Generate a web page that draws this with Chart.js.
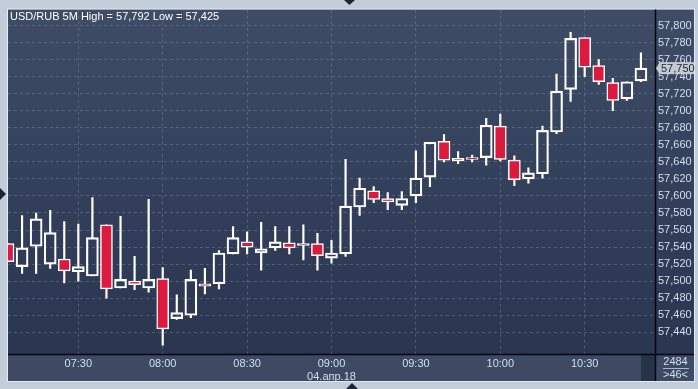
<!DOCTYPE html>
<html>
<head>
<meta charset="utf-8">
<script src="https://cdn.jsdelivr.net/npm/chart.js@4.4.1/dist/chart.umd.min.js"></script>
<style>
    html, body { margin: 0; padding: 0; background: #c3cdda; }
    canvas { display: block; }
</style>
</head>
<body>
<canvas id="chart" width="698" height="389"></canvas>
<script>
// 5-minute candles, 07:05 .. 10:50 (one empty slot at 10:55 keeps the right margin)
const TIMES = [
    "07:05", "07:10", "07:15", "07:20", "07:25", "07:30", "07:35", "07:40", "07:45", "07:50", "07:55",
    "08:00", "08:05", "08:10", "08:15", "08:20", "08:25", "08:30", "08:35", "08:40", "08:45", "08:50", "08:55",
    "09:00", "09:05", "09:10", "09:15", "09:20", "09:25", "09:30", "09:35", "09:40", "09:45", "09:50", "09:55",
    "10:00", "10:05", "10:10", "10:15", "10:20", "10:25", "10:30", "10:35", "10:40", "10:45", "10:50", "10:55",
];
const OPENS = [
    57544, 57517, 57541, 57520, 57526, 57511, 57506, 57566, 57492, 57500, 57492,
    57503, 57456, 57460, 57497, 57497, 57532, 57546, 57533, 57539, 57545, 57542, 57544,
    57527, 57532, 57587, 57606, 57597, 57589, 57600, 57622, 57664, 57641, 57645, 57645,
    57682, 57642, 57620, 57626, 57675, 57725, 57786, 57753, 57733, 57714, 57735,
];
const HIGHS = [
    57544, 57577, 57580, 57583, 57570, 57567, 57598, 57566, 57576, 57529, 57596,
    57516, 57484, 57513, 57515, 57536, 57564, 57558, 57569, 57564, 57564, 57566, 57556,
    57548, 57643, 57621, 57611, 57604, 57605, 57653, 57663, 57672, 57652, 57648, 57691,
    57696, 57647, 57633, 57682, 57743, 57792, 57786, 57760, 57738, 57734, 57768,
];
const LOWS = [
    57523, 57509, 57509, 57515, 57498, 57500, 57506, 57480, 57492, 57490, 57487,
    57425, 57455, 57457, 57485, 57491, 57532, 57532, 57513, 57536, 57532, 57525, 57513,
    57521, 57529, 57577, 57592, 57584, 57584, 57592, 57611, 57640, 57638, 57640, 57636,
    57641, 57612, 57615, 57621, 57673, 57711, 57740, 57731, 57700, 57712, 57734,
];
const CLOSES = [
    57523, 57539, 57573, 57557, 57512, 57517, 57551, 57491, 57502, 57496, 57502,
    57444, 57463, 57502, 57494, 57533, 57551, 57540, 57538, 57546, 57539, 57544, 57530,
    57533, 57588, 57609, 57596, 57593, 57597, 57621, 57663, 57642, 57644, 57643, 57683,
    57643, 57619, 57627, 57677, 57723, 57785, 57751, 57734, 57712, 57734, 57750,
];
const Y_TICKS = [57440, 57460, 57480, 57500, 57520, 57540, 57560, 57580, 57600, 57620,
    57640, 57660, 57680, 57700, 57720, 57740, 57760, 57780, 57800];
const Y_MIN = 57414.5;
const Y_MAX = 57818.7;

const TITLE = "USD/RUB 5M High = 57,792 Low = 57,425";
const DATE_TICK = "09:00";
const DATE_LABEL = "04.апр.18";
const LAST_PRICE = "57,750";
const CORNER_TOP = "2484";
const CORNER_BOTTOM = ">46<";

const FONT = "'Liberation Sans Narrow', 'Liberation Sans', Arial, sans-serif";
const RED = "#dc1a3e";
const TEXT = "#d5dff0";
const GRID = "rgba(125,140,170,0.45)";

function fmt(v) {
    return String(v).replace(/(\d+)(\d{3})$/, "$1,$2");
}

function isMark(i) {
    const t = TIMES[i] || "";
    return t.endsWith(":00") || t.endsWith(":30");
}

const bodies = OPENS.map((o, i) => [o, CLOSES[i]]);
const upperWicks = OPENS.map((o, i) => [Math.max(o, CLOSES[i]), HIGHS[i]]);
const lowerWicks = OPENS.map((o, i) => [LOWS[i], Math.min(o, CLOSES[i])]);
const bodyColors = OPENS.map((o, i) => (CLOSES[i] < o ? RED : "rgba(0,0,0,0)"));

function tri(ctx, pts, color) {
    ctx.fillStyle = color;
    ctx.beginPath();
    ctx.moveTo(pts[0][0], pts[0][1]);
    pts.slice(1).forEach((p) => ctx.lineTo(p[0], p[1]));
    ctx.closePath();
    ctx.fill();
}

const frame = {
    id: "frame",
    beforeDraw(chart) {
        const { ctx, chartArea: a, width, height } = chart;
        const right = 694;
        const bottom = 381;
        ctx.save();
        ctx.fillStyle = "#c3cdda";
        ctx.fillRect(0, 0, width, height);
        ctx.fillStyle = "#e6ebf2";
        ctx.fillRect(a.left - 1, a.top - 1, right - a.left + 2, bottom - a.top + 2);

        const g = ctx.createLinearGradient(0, a.top, 0, a.bottom);
        g.addColorStop(0, "#3e4c66");
        g.addColorStop(1, "#2a3550");
        ctx.fillStyle = g;
        ctx.fillRect(a.left, a.top, right - a.left, a.bottom - a.top);

        ctx.fillStyle = "#3d4a64";
        ctx.fillRect(a.left, a.bottom, right - a.left, bottom - a.bottom);
        ctx.fillStyle = "#27324b";
        ctx.fillRect(a.right - 14, a.bottom, 14, bottom - a.bottom);
        ctx.restore();
    },
    afterDraw(chart) {
        const { ctx, chartArea: a } = chart;
        const right = 694;
        const bottom = 381;
        ctx.save();
        ctx.strokeStyle = "#05070c";
        ctx.lineWidth = 1.5;
        ctx.beginPath();
        ctx.moveTo(a.right + 0.5, a.top);
        ctx.lineTo(a.right + 0.5, bottom);
        ctx.moveTo(a.left, a.bottom + 0.5);
        ctx.lineTo(right, a.bottom + 0.5);
        ctx.stroke();

        ctx.font = `11px ${FONT}`;
        ctx.textBaseline = "middle";
        ctx.fillStyle = "#ffffff";
        ctx.textAlign = "left";
        ctx.fillText(TITLE, a.left + 2, a.top + 7);

        // last price marker on the right axis
        const y = chart.scales.y.getPixelForValue(CLOSES[CLOSES.length - 1]);
        ctx.fillStyle = "#c6cad2";
        ctx.fillRect(a.right + 4, y - 6, right - a.right - 4, 12);
        tri(ctx, [[a.right + 1, y], [a.right + 4, y - 5], [a.right + 4, y + 5]], "#c6cad2");
        ctx.fillStyle = "#1c2435";
        ctx.fillText(LAST_PRICE, a.right + 6, y + 0.5);

        // corner counter
        const cx = (a.right + right) / 2 + 1;
        ctx.fillStyle = TEXT;
        ctx.textAlign = "center";
        ctx.fillText(CORNER_TOP, cx, a.bottom + 8);
        ctx.fillText(CORNER_BOTTOM, cx, a.bottom + 21);
        ctx.strokeStyle = "#aeb8c9";
        ctx.lineWidth = 1;
        ctx.beginPath();
        ctx.moveTo(a.right + 8, a.bottom + 14.5);
        ctx.lineTo(right - 5, a.bottom + 14.5);
        ctx.stroke();

        // scroll markers on the window edges
        tri(ctx, [[344, 0], [355, 0], [349.5, 5]], "#1b2436");
        tri(ctx, [[346, 389], [358, 389], [352, 383]], "#1b2436");
        tri(ctx, [[0, 188], [0, 200], [6, 194]], "#1b2436");
        ctx.restore();
    },
};

new Chart(document.getElementById("chart"), {
    type: "bar",
    data: {
        labels: TIMES,
        datasets: [
            {
                data: upperWicks,
                backgroundColor: "#ffffff",
                borderWidth: 0,
                barThickness: 1.5,
                grouped: false,
                clip: 0,
            },
            {
                data: lowerWicks,
                backgroundColor: "#ffffff",
                borderWidth: 0,
                barThickness: 1.5,
                grouped: false,
                clip: 0,
            },
            {
                data: bodies,
                backgroundColor: bodyColors,
                borderColor: "#ffffff",
                borderWidth: 1.5,
                borderSkipped: false,
                barThickness: 12,
                grouped: false,
                clip: 0,
            },
        ],
    },
    options: {
        responsive: false,
        animation: false,
        layout: { padding: { left: 8, top: 8, right: 4, bottom: 8 } },
        plugins: { legend: { display: false }, tooltip: { enabled: false } },
        scales: {
            x: {
                type: "category",
                offset: false,
                grid: {
                    offset: false,
                    drawTicks: false,
                    color: (c) => (isMark(c.index) ? GRID : "rgba(0,0,0,0)"),
                },
                border: { display: false, dash: [3, 3] },
                ticks: {
                    autoSkip: false,
                    maxRotation: 0,
                    padding: 3,
                    color: TEXT,
                    font: { family: FONT, size: 11, lineHeight: 1.2 },
                    callback: (v, i) => {
                        if (!isMark(i)) return "";
                        return TIMES[i] === DATE_TICK ? [TIMES[i], DATE_LABEL] : TIMES[i];
                    },
                },
                afterFit: (s) => { s.height = 27; },
            },
            y: {
                position: "right",
                min: Y_MIN,
                max: Y_MAX,
                grid: { drawTicks: false, color: GRID },
                border: { display: false, dash: [3, 3] },
                ticks: {
                    padding: 3,
                    color: TEXT,
                    font: { family: FONT, size: 11 },
                    callback: (v) => fmt(v),
                },
                afterBuildTicks: (axis) => { axis.ticks = Y_TICKS.map((value) => ({ value })); },
                afterFit: (s) => { s.width = 39; },
            },
        },
    },
    plugins: [frame],
});
</script>
</body>
</html>
